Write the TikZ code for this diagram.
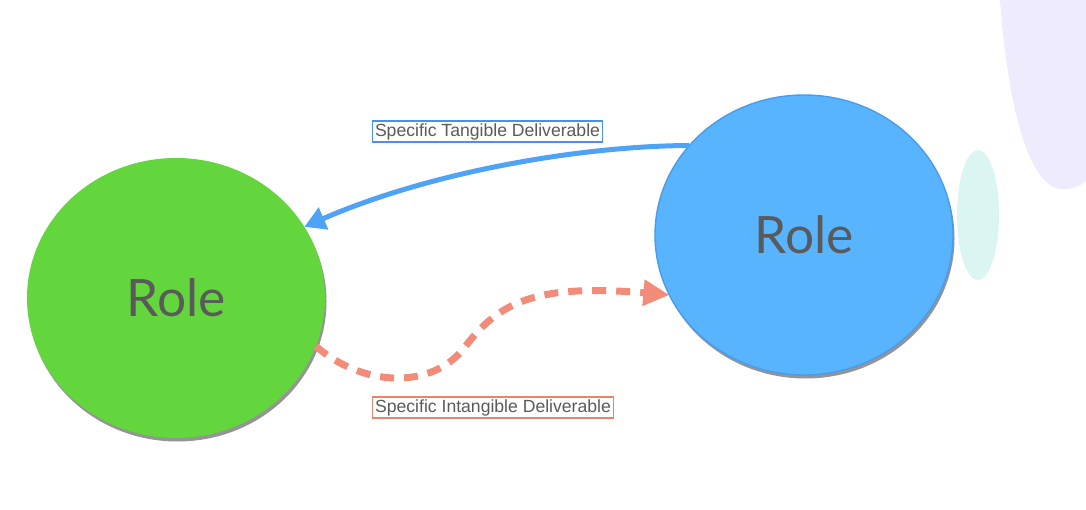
\documentclass[tikz,border=0pt]{standalone}
\usepackage{fontspec}
\setmainfont{Liberation Sans}
\newfontfamily\rolefont{Lato}
\usetikzlibrary{shapes.geometric,arrows.meta,shadows}
\definecolor{rolegreen}{HTML}{62D63C}
\definecolor{roleblue}{HTML}{58B4FF}
\definecolor{roleblueline}{HTML}{4A9BEE}
\definecolor{arrowblue}{HTML}{4FA3F7}
\definecolor{arrowred}{HTML}{F28B78}
\definecolor{labelred}{HTML}{E9826E}
\definecolor{labelblue}{HTML}{4A90E8}
\definecolor{textgrey}{HTML}{5A5A5A}
\definecolor{lavender}{HTML}{EDEBFD}
\definecolor{paleaqua}{HTML}{DBF5F3}
\tikzset{
  rolenode/.style={ellipse, minimum width=298pt, minimum height=280pt, inner sep=0pt, outer sep=0pt,
    text=textgrey, font=\rolefont\fontsize{51.5}{60}\selectfont,
    drop shadow={shadow xshift=1.5pt, shadow yshift=-3.5pt, opacity=0.6, fill=black!70}},
  deliv/.style={draw, line width=1.7pt, fill=white, text=textgrey, font=\fontsize{17.6}{20}\selectfont,
    inner xsep=2.5pt, inner ysep=0pt, minimum height=21pt, text height=12.8pt, text depth=3.6pt},
  tangible/.style={draw=arrowblue, line width=5pt, -{Triangle[length=21pt,width=23pt]}},
  intangible/.style={draw=arrowred, line width=7pt, dash pattern=on 14pt off 10pt,
    -{Triangle[length=26pt,width=25pt]}}
}
\begin{document}
\begin{tikzpicture}[x=1pt,y=-1pt]
\useasboundingbox (0,0) rectangle (1086,510);
% background decorations
\fill[lavender] (1000,0) .. controls (1008,110) and (1030,190) .. (1063,189)
  .. controls (1074,189) and (1082,185) .. (1086,181) -- (1086,0) -- cycle;
\fill[paleaqua] (978,215) ellipse [x radius=21pt, y radius=65pt];
% roles
\node[rolenode, fill=rolegreen] (g) at (176,298) {Role};
\node[rolenode, fill=roleblue, draw=roleblueline, line width=1.4pt] (b) at (804,235) {Role};
% labels
\node[deliv, draw=labelblue] (lt) at (487.5,131.5) {Specific Tangible Deliverable};
\node[deliv, draw=labelred] (li) at (493,407.5) {Specific Intangible Deliverable};
% connectors
\draw[tangible] (b.142) .. controls (580,146) and (430,172) .. (g.29);
\draw[intangible] (g.-19) .. controls (360,385) and (430,392) .. (465,347)
  .. controls (500,300) and (540,284) .. (b.204);
\end{tikzpicture}
\end{document}
